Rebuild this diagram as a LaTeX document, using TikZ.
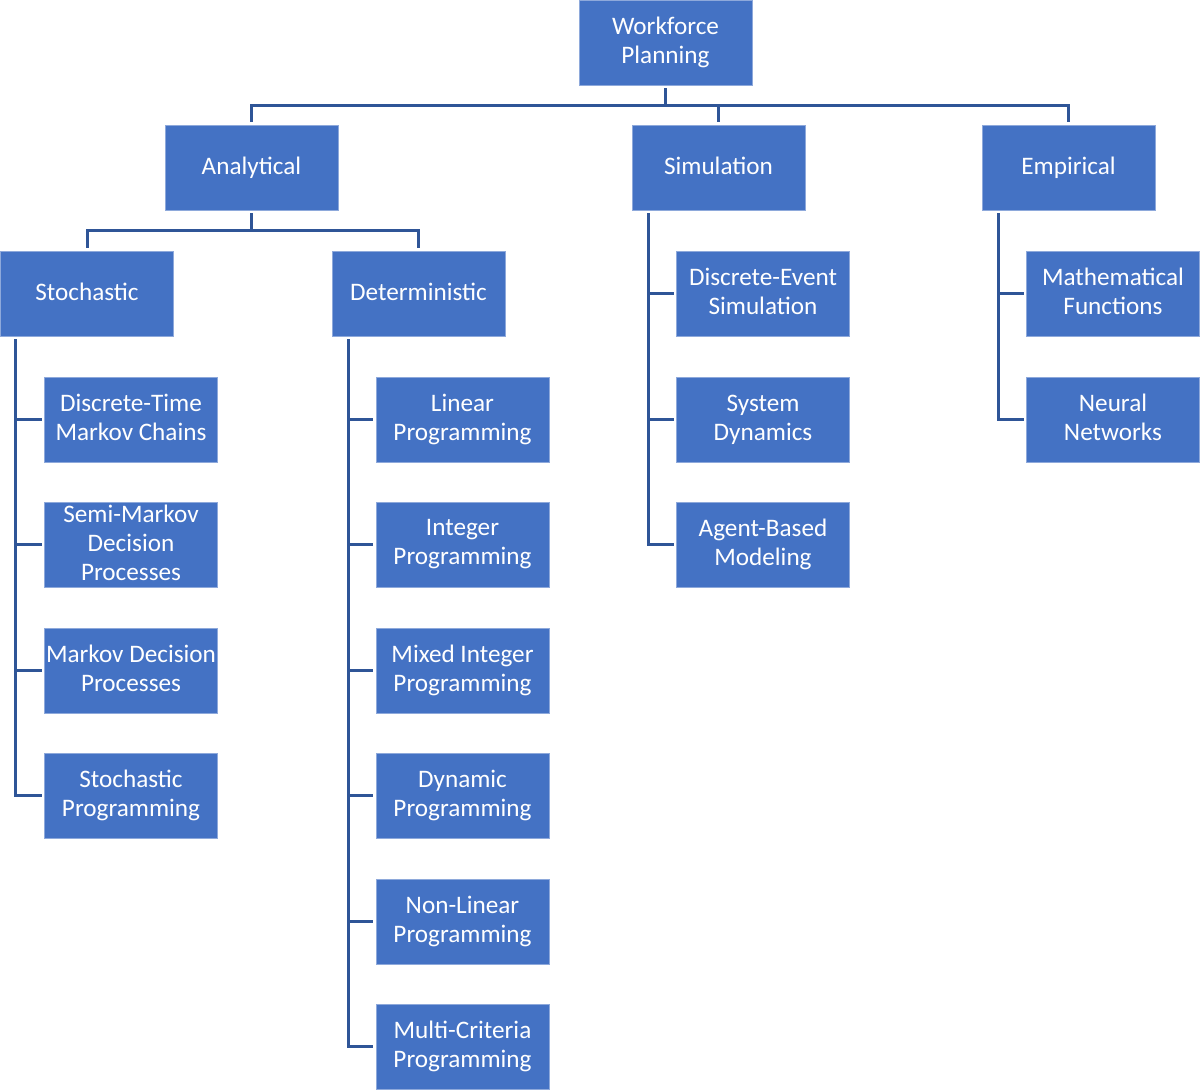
\documentclass[tikz,border=0pt]{standalone}
\usepackage{fontspec}
\setmainfont{Carlito}
\definecolor{boxblue}{HTML}{4472C4}
\definecolor{linkblue}{HTML}{2F5597}
\definecolor{boxedge}{HTML}{8EA9DB}

\begin{document}
\begin{tikzpicture}[x=0.5pt,y=0.5pt,
    box/.style={draw=boxedge,line width=0.4pt,fill=boxblue,text=white,
      minimum width=86.5pt,minimum height=42.5pt,inner sep=0pt,outer sep=1.5pt,
      align=center,font=\fontsize{12.6}{14.5}\selectfont,
      execute at begin node=\vphantom{Ak},execute at end node=\vphantom{g}},
    link/.style={draw=linkblue,line width=1.5pt}]
      \useasboundingbox (0,0) rectangle (1200,-1089);

      % top levels
      \node[box] (wp) at (665.5,-42.5) {Workforce\\Planning};
      \node[box] (ana) at (251.5,-167.5) {Analytical};
      \node[box] (sim) at (718.5,-167.5) {Simulation};
      \node[box] (emp) at (1068.5,-167.5) {Empirical};
      \node[box] (sto) at (87,-293.5) {Stochastic};
      \node[box] (det) at (418.5,-293.5) {Deterministic};

      % stochastic methods
      \node[box] (s1) at (131,-419.5) {Discrete-Time\\Markov Chains};
      \node[box] (s2) at (131,-544.5) {Semi-Markov\\Decision\\Processes};
      \node[box] (s3) at (131,-670.5) {Markov Decision\\Processes};
      \node[box] (s4) at (131,-795.5) {Stochastic\\Programming};

      % deterministic methods
      \node[box] (d1) at (462.5,-419.5) {Linear\\Programming};
      \node[box] (d2) at (462.5,-544.5) {Integer\\Programming};
      \node[box] (d3) at (462.5,-670.5) {Mixed Integer\\Programming};
      \node[box] (d4) at (462.5,-795.5) {Dynamic\\Programming};
      \node[box] (d5) at (462.5,-921.5) {Non-Linear\\Programming};
      \node[box] (d6) at (462.5,-1046.5) {Multi-Criteria\\Programming};

      % simulation and empirical methods
      \node[box] (m1) at (763,-293.5) {Discrete-Event\\Simulation};
      \node[box] (m2) at (763,-419.5) {System\\Dynamics};
      \node[box] (m3) at (763,-544.5) {Agent-Based\\Modeling};
      \node[box] (e1) at (1113,-293.5) {Mathematical\\Functions};
      \node[box] (e2) at (1113,-419.5) {Neural\\Networks};

      % connectors
      \coordinate (bus1) at (665.5,-105);
      \coordinate (bus2) at (251.5,-230);
      \draw[link] (wp.south) -- (bus1);
      \draw[link] (bus1) -| (ana.north);
      \draw[link] (bus1) -| (sim.north);
      \draw[link] (bus1) -| (emp.north);
      \draw[link] (ana.south) -- (bus2);
      \draw[link] (bus2) -| (sto.north);
      \draw[link] (bus2) -| (det.north);
      \foreach \n in {s1,s2,s3,s4}
        \draw[link] ([xshift=9pt]sto.south west) |- (\n.west);
      \foreach \n in {d1,d2,d3,d4,d5,d6}
        \draw[link] ([xshift=9.5pt]det.south west) |- (\n.west);
      \foreach \n in {m1,m2,m3}
        \draw[link] ([xshift=9.5pt]sim.south west) |- (\n.west);
      \foreach \n in {e1,e2}
        \draw[link] ([xshift=9.5pt]emp.south west) |- (\n.west);
\end{tikzpicture}
\end{document}
